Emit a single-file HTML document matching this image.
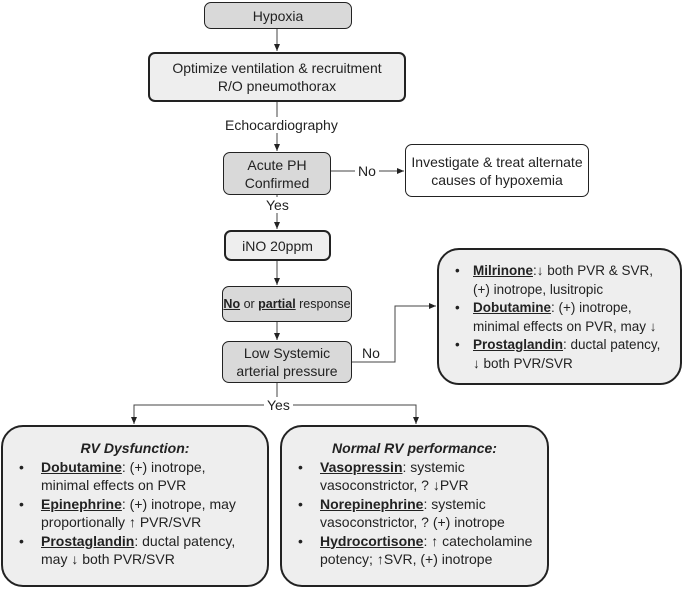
<!DOCTYPE html>
<html><head><meta charset="utf-8"><style>
body{margin:0;width:685px;height:589px;background:#fff;position:relative;overflow:hidden;font-family:"Liberation Sans",sans-serif;color:#222}
.b{position:absolute;box-sizing:border-box;border:1.5px solid #222;border-radius:7px;display:flex;align-items:center;justify-content:center;text-align:center;font-size:14px;line-height:18px;white-space:nowrap}
.g{background:#d9d9d9}.l{background:#eeeeee}.t{border-width:2.5px}
.lab{position:absolute;font-size:14px;background:#fff;padding:0 3px}
.big{position:absolute;box-sizing:border-box;border:2.5px solid #222;border-radius:22px;background:#eeeeee;font-size:14px;line-height:18.5px;white-space:nowrap}
ul{margin:0;padding:0;list-style:none}
li{position:relative;padding-left:38px}
li:before{content:"•";position:absolute;left:16px}
</style></head><body>
<svg width="685" height="589" style="position:absolute;left:0;top:0">
<defs><marker id="a" markerWidth="8" markerHeight="8" refX="7" refY="4" orient="auto"><path d="M0,1 L7,4 L0,7z" fill="#222"/></marker></defs>
<g stroke="#444" stroke-width="1" fill="none">
<line x1="277" y1="28" x2="277" y2="51" marker-end="url(#a)"/>
<line x1="277" y1="101" x2="277" y2="151" marker-end="url(#a)"/>
<line x1="330" y1="171" x2="404" y2="171" marker-end="url(#a)"/>
<line x1="277" y1="194" x2="277" y2="229" marker-end="url(#a)"/>
<line x1="277" y1="260" x2="277" y2="285" marker-end="url(#a)"/>
<line x1="277" y1="322" x2="277" y2="340" marker-end="url(#a)"/>
<polyline points="352,362 395,362 395,306 436,306" marker-end="url(#a)"/>
<line x1="277" y1="383" x2="277" y2="405"/>
<polyline points="277,405 134,405 134,424" marker-end="url(#a)"/>
<polyline points="277,405 416,405 416,424" marker-end="url(#a)"/>
</g></svg>
<div class="b g" style="left:204px;top:2px;width:148px;height:27px">Hypoxia</div>
<div class="b l t" style="left:148px;top:52px;width:258px;height:50px">Optimize ventilation &amp; recruitment<br>R/O pneumothorax</div>
<div class="lab" style="left:222px;top:117px">Echocardiography</div>
<div class="b g" style="left:223px;top:152px;width:108px;height:43px">Acute PH<br>Confirmed</div>
<div class="lab" style="left:355px;top:163px">No</div>
<div class="b" style="left:405px;top:144px;width:184px;height:53px;background:#fff">Investigate &amp; treat alternate<br>causes of hypoxemia</div>
<div class="lab" style="left:263px;top:197px">Yes</div>
<div class="b l t" style="left:224px;top:230px;width:107px;height:31px">iNO 20ppm</div>
<div class="b g" style="left:222px;top:286px;width:130px;height:36px;font-size:12.5px"><span><b><u>No</u></b> or <b><u>partial</u></b> response</span></div>
<div class="b g" style="left:222px;top:341px;width:130px;height:42px">Low Systemic<br>arterial pressure</div>
<div class="lab" style="left:359px;top:345px">No</div>
<div class="big" style="left:437px;top:248px;width:245px;height:137px;padding-top:12px;font-size:13.5px">
<ul><li style="padding-left:34px"><b><u>Milrinone</u></b>:↓ both PVR &amp; SVR,<br>(+) inotrope, lusitropic</li>
<li style="padding-left:34px"><b><u>Dobutamine</u></b>: (+) inotrope,<br>minimal effects on PVR, may ↓</li>
<li style="padding-left:34px"><b><u>Prostaglandin</u></b>: ductal patency,<br>↓ both PVR/SVR</li></ul></div>
<div class="lab" style="left:264px;top:397px">Yes</div>
<div class="big" style="left:1px;top:425px;width:268px;height:162px;padding-top:12px">
<div style="text-align:center;font-weight:bold;font-style:italic">RV Dysfunction:</div>
<ul><li><b><u>Dobutamine</u></b>: (+) inotrope,<br>minimal effects on PVR</li>
<li><b><u>Epinephrine</u></b>: (+) inotrope, may<br>proportionally ↑ PVR/SVR</li>
<li><b><u>Prostaglandin</u></b>: ductal patency,<br>may ↓ both PVR/SVR</li></ul></div>
<div class="big" style="left:280px;top:425px;width:269px;height:162px;padding-top:12px">
<div style="text-align:center;font-weight:bold;font-style:italic">Normal RV performance:</div>
<ul><li><b><u>Vasopressin</u></b>: systemic<br>vasoconstrictor, ? ↓PVR</li>
<li><b><u>Norepinephrine</u></b>: systemic<br>vasoconstrictor, ? (+) inotrope</li>
<li><b><u>Hydrocortisone</u></b>: ↑ catecholamine<br>potency; ↑SVR, (+) inotrope</li></ul></div>
</body></html>
